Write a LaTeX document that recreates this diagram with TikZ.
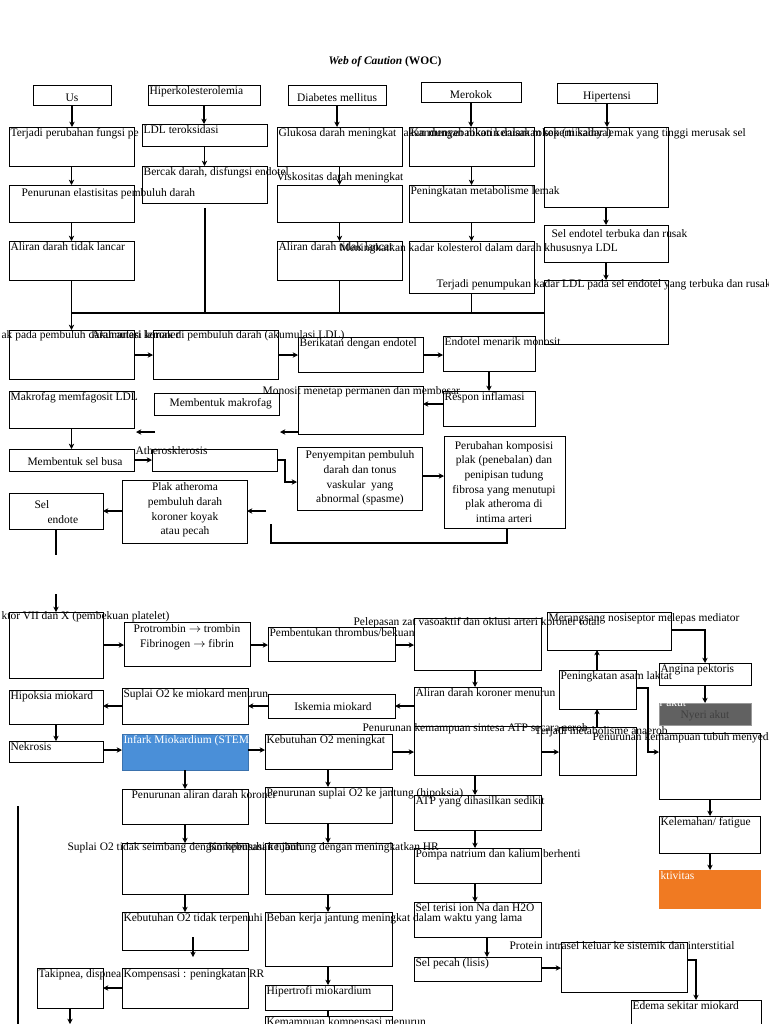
\documentclass[tikz,border=0pt]{standalone}
\usepackage{fontspec}
\setmainfont{Liberation Serif}
\usetikzlibrary{arrows.meta}
\definecolor{infblue}{HTML}{4A8FD8}
\definecolor{aktor}{HTML}{F07A22}
\tikzset{
  box/.style={draw, line width=0.6pt, inner sep=0pt, outer sep=0pt, anchor=north west},
  lbl/.style={anchor=north west, inner sep=1pt, font=\fontsize{8.6}{9.5}\selectfont, align=left},
  txt/.style={anchor=north west, inner sep=1pt, font=\fontsize{8.6}{9.5}\selectfont, align=left},
  ctxt/.style={inner sep=1pt, font=\fontsize{8.6}{11}\selectfont, align=center},
  arr/.style={draw, line width=0.9pt, -{Stealth[length=4pt,width=4pt]}},
  ln/.style={draw, line width=0.9pt},
}
\newcommand\mybox[6]{\node[box, minimum width={#4*0.75pt}, minimum height={#5*0.75pt}, label={[lbl]north west:{#6}}] (#1) at (#2,#3) {};}
\begin{document}
\begin{tikzpicture}[x=0.75pt,y=-0.75pt]
\useasboundingbox (0,0) rectangle (768,1024);
\node[ctxt] (title) at (385,62) {\textbf{\textit{Web of Caution}} \textbf{(WOC)}};
% row 1
\mybox{us}{33}{85}{78}{20}{}
\node[ctxt] (ust) at (72,98) {Us};
\mybox{hk}{148}{85}{112}{20}{Hiperkolesterolemia}
\mybox{dm}{288}{85}{98}{20}{}
\node[ctxt] (dmt) at (337,98) {Diabetes mellitus};
\mybox{mr}{421}{82}{100}{20}{}
\node[ctxt] (mrt) at (471,95) {Merokok};
\mybox{ht}{557}{83}{100}{20}{}
\node[ctxt] (htt) at (607,97) {Hipertensi};
% col 1
\mybox{a1}{9}{127}{125}{39}{Terjadi perubahan fungsi pe}
\mybox{a2}{9}{185}{125}{37}{}
\node[txt] (a2t) at (20,187) {Penurunan elastisitas pembuluh darah};
\mybox{a3}{9}{241}{125}{39}{Aliran darah tidak lancar}
% col 2
\mybox{h1}{142}{124}{125}{22}{LDL teroksidasi}
\mybox{h2}{142}{166}{125}{37}{Bercak darah, disfungsi endotel}
% col 3
\mybox{d1}{277}{127}{125}{39}{Glukosa darah meningkat}
\mybox{d2}{277}{185}{125}{37}{}
\node[txt] (d2t) at (275,171) {Viskositas darah meningkat};
\mybox{d3}{277}{241}{125}{39}{Aliran darah tidak lancar}
% col 4
\mybox{m1}{409}{127}{125}{39}{Kandungan nikotin dalam rokok (misalnya)}
\mybox{m2}{409}{185}{125}{37}{Peningkatan metabolisme lemak}
\mybox{m3}{409}{241}{125}{52}{}
\node[txt] (m3t) at (338,242) {Meningkatkan kadar kolesterol dalam darah khususnya LDL};
% col 5
\mybox{t1}{544}{127}{124}{80}{}
\node[txt] (t1t) at (402,127) {akan menyebabkan kerusakan seperti kadar lemak yang tinggi merusak sel};
\mybox{t2}{544}{225}{124}{37}{}
\node[txt] (t2t) at (550,228) {Sel endotel terbuka dan rusak};
\mybox{t3}{544}{280}{124}{64}{}
\node[txt] (t3t) at (435,278) {Terjadi penumpukan kadar LDL pada sel endotel yang terbuka dan rusak};
% top arrows
\draw[arr] (us.south) -- (us.south |- a1.north);
\draw[arr] (a1.south) -- (a2.north);
\draw[arr] (a2.south) -- (a3.north);
\draw[arr] (hk.south) -- (hk.south |- h1.north);
\draw[arr] (h1.south) -- (h1.south |- h2.north);
\draw[arr] (dm.south) -- (dm.south |- d1.north);
\draw[arr] (d1.south) -- (d2.north);
\draw[arr] (d2.south) -- (d3.north);
\draw[arr] (mr.south) -- (mr.south |- m1.north);
\draw[arr] (m1.south) -- (m2.north);
\draw[arr] (m2.south) -- (m3.north);
\draw[arr] (ht.south) -- (ht.south |- t1.north);
\draw[arr] (t1.south) -- (t2.north);
\draw[arr] (t2.south) -- (t3.north);
% collector
\coordinate (c2top) at (205,208);
\coordinate (busL) at (71,313);
\draw[ln] (c2top) -- (205,313);
\draw[ln] (d3.south) -- (d3.south |- busL);
\draw[ln] (m3.south) -- (m3.south |- busL);
\draw[ln] (busL) -- (busL -| t3.west);
% row b
\mybox{b1}{9}{330}{125}{49}{}
\mybox{b2}{153}{330}{125}{49}{}
\node[txt] (b1t) at (0,329) {ak pada pembuluh darah arteri koroner};
\node[txt] (b2t) at (90,329) {Akumulasi lemak di pembuluh darah (akumulasi LDL)};
\mybox{b3}{298}{337}{125}{35}{Berikatan dengan endotel}
\mybox{b4}{443}{336}{92}{35}{Endotel menarik monosit}
\draw[arr] (a3.south) -- (a3.south |- b1.north);
\draw[arr] (b1.east |- 0,355) -- (b2.west |- 0,355);
\draw[arr] (b2.east |- 0,355) -- (b3.west |- 0,355);
\draw[arr] (b3.east |- 0,355) -- (b4.west |- 0,355);
% row c
\mybox{c4}{443}{391}{92}{35}{Respon inflamasi}
\mybox{c3}{298}{386}{125}{48}{}
\node[txt] (c3t) at (261,385) {Monosit menetap permanen dan membesar};
\mybox{c2}{154}{393}{125}{22}{}
\node[txt] (c2t) at (168,397) {Membentuk makrofag};
\mybox{c1}{9}{391}{125}{37}{Makrofag memfagosit LDL};
\draw[arr] (b4.south) -- (b4.south |- c4.north);
\draw[arr] (c4.west |- 0,404) -- (c3.east |- 0,404);
\coordinate (ca) at (280,432);
\coordinate (cb1) at (155,432);
\coordinate (cb2) at (136,432);
\draw[arr] (c3.west |- ca) -- (ca);
\draw[arr] (cb1) -- (cb2);
% row e
\mybox{e1}{9}{449}{125}{22}{}
\node[ctxt] (e1t) at (75,462) {Membentuk sel busa};
\mybox{e2}{152}{449}{125}{22}{}
\node[txt] (e2t) at (134,445) {Atherosklerosis};
\mybox{e3}{297}{447}{125}{63}{}
\node[ctxt] (e3t) at (360,478) {Penyempitan pembuluh\\darah dan tonus\\vaskular\ \ yang\\abnormal (spasme)};
\mybox{e4}{444}{436}{121}{92}{}
\node[ctxt] (e4t) at (504,482) {Perubahan komposisi\\plak (penebalan) dan\\penipisan tudung\\fibrosa yang menutupi\\plak atheroma di\\intima arteri};
\draw[arr] (c1.south) -- (c1.south |- e1.north);
\draw[arr] (e1.east |- 0,460) -- (e2.west |- 0,460);
\draw[arr] (e2.east |- 0,460) -- (285,460) -- (285,482) -- (e3.west |- 0,482);
\draw[arr] (e3.east |- 0,476) -- (e4.west |- 0,476);
% row f
\mybox{f2}{122}{480}{125}{63}{}
\node[ctxt] (f2t) at (185,510) {Plak atheroma\\pembuluh darah\\koroner koyak\\atau pecah};
\mybox{f1}{9}{493}{94}{36}{}
\node[txt] (f1a) at (33,499) {Sel};
\node[txt] (f1b) at (46,514) {endote};
\coordinate (fl) at (271,524);
\coordinate (e4b) at (507,528);
\draw[ln] (e4b) -- (507,543) -- (271,543) -- (fl);
\coordinate (fa) at (266,511);
\draw[arr] (fa) -- (f2.east |- fa);
\draw[arr] (f2.west |- 0,511) -- (f1.east |- 0,511);
\coordinate (f1e) at (56,555);
\draw[ln] (f1.south -| f1e) -- (f1e);
\coordinate (g0) at (56,594);
% lower part
\mybox{g1}{9}{612}{94}{66}{}
\node[txt] (g1t) at (0,610) {ktor VII dan X (pembekuan platelet)};
\draw[arr] (g0) -- (g0 |- g1.north);
\mybox{g2}{124}{622}{126}{44}{}
\node[ctxt] (g2t) at (187,637) {Protrombin $\rightarrow$ trombin\\Fibrinogen $\rightarrow$ fibrin};
\mybox{g3}{268}{627}{127}{34}{Pembentukan thrombus/bekuan}
\mybox{g4}{414}{618}{127}{52}{}
\node[txt] (g4t) at (352,616) {Pelepasan zat vasoaktif dan oklusi arteri koroner total};
\mybox{g5}{547}{612}{124}{38}{Merangsang nosiseptor melepas mediator}
\draw[arr] (g1.east |- 0,645) -- (g2.west |- 0,645);
\draw[arr] (g2.east |- 0,645) -- (g3.west |- 0,645);
\draw[arr] (g3.east |- 0,645) -- (g4.west |- 0,645);
\mybox{an}{659}{663}{92}{22}{Angina pektoris}
\draw[arr] (g5.east |- 0,630) -- (705,630) -- (705,663);
\node[box, minimum width={92*0.75pt}, minimum height={22*0.75pt}, fill=black!62, draw=black!40] (ny) at (659,703) {};
\node[ctxt, text=black!75] (nyt) at (705,716) {Nyeri akut};
\node[txt, text=white] (nyt2) at (658,697) {r akut};
\draw[arr] (an.south -| 705,0) -- (705,703);
\mybox{lak}{559}{670}{77}{39}{Peningkatan asam laktat}
\mybox{an2}{559}{727}{77}{48}{}
\node[txt] (an2t) at (533,725) {Terjadi metabolisme anaerob};
\draw[arr] (597,670) -- (597,650);
\draw[arr] (597,727) -- (597,709);
\mybox{h4a}{414}{687}{127}{39}{Aliran darah koroner menurun}
\mybox{h4b}{414}{726}{127}{49}{}
\node[txt] (h4bt) at (361,722) {Penurunan kemampuan sintesa ATP secara aerob};
\draw[arr] (475,670) -- (475,687);
\mybox{isk}{268}{694}{127}{24}{}
\node[ctxt] (iskt) at (333,707) {Iskemia miokard};
\mybox{sup}{122}{688}{126}{36}{Suplai O2 ke miokard menurun}
\mybox{hip}{9}{690}{94}{34}{Hipoksia miokard}
\draw[arr] (h4a.west |- 0,706) -- (isk.east |- 0,706);
\draw[arr] (isk.west |- 0,706) -- (sup.east |- 0,706);
\draw[arr] (sup.west |- 0,706) -- (hip.east |- 0,706);
\mybox{nek}{9}{741}{94}{21}{Nekrosis}
\draw[arr] (56,724) -- (56,741);
\node[box, minimum width={126*0.75pt}, minimum height={36*0.75pt}, fill=infblue, draw=infblue!80!black, label={[lbl, text=white]north west:{Infark Miokardium (STEMI)}}] (inf) at (122,734) {};
\draw[arr] (nek.east |- 0,750) -- (inf.west |- 0,750);
\mybox{keb}{265}{734}{127}{35}{Kebutuhan O2 meningkat}
\draw[arr] (inf.east |- 0,750) -- (keb.west |- 0,750);
\draw[arr] (keb.east |- 0,752) -- (h4b.west |- 0,752);
\draw[arr] (h4b.east |- 0,752) -- (an2.west |- 0,752);
\mybox{kmp}{659}{733}{101}{66}{}
\node[txt] (kmpt) at (591,731) {Penurunan kemampuan tubuh menyediakan energi};
\draw[arr] (lak.east |- 0,688) -- (648,688) -- (648,752) -- (kmp.west |- 0,752);
\mybox{kel}{659}{816}{101}{37}{Kelemahan/ fatigue}
\draw[arr] (710,799) -- (710,816);
\node[box, minimum width={101*0.75pt}, minimum height={38*0.75pt}, fill=aktor, draw=aktor, label={[lbl, text=white]north west:{ktivitas}}] (akt) at (659,870) {};
\draw[arr] (710,853) -- (710,870);
% lower columns
\mybox{pa}{122}{789}{126}{35}{}
\node[txt] (pat) at (130,789) {Penurunan aliran darah koroner};
\draw[arr] (185,770) -- (185,789);
\mybox{ps}{265}{787}{127}{36}{Penurunan suplai O2 ke jantung (hipoksia)}
\draw[arr] (328,769) -- (328,787);
\mybox{atp}{414}{795}{127}{35}{ATP yang dihasilkan sedikit}
\draw[arr] (475,775) -- (475,795);
\mybox{sup2}{122}{843}{126}{51}{}
\node[txt] (sup2t) at (66,841) {Suplai O2 tidak seimbang dengan kebutuhan tubuh};
\draw[arr] (185,824) -- (185,843);
\mybox{kmp2}{265}{843}{127}{51}{}
\node[txt] (kmp2t) at (207,841) {Kompensasi ke jantung dengan meningkatkan HR};
\draw[arr] (328,823) -- (328,843);
\mybox{pompa}{414}{848}{127}{35}{Pompa natrium dan kalium berhenti}
\draw[arr] (475,830) -- (475,848);
\mybox{ion}{414}{902}{127}{35}{Sel terisi ion Na dan H2O}
\draw[arr] (475,883) -- (475,902);
\mybox{ko}{122}{912}{126}{38}{Kebutuhan O2 tidak terpenuhi}
\draw[arr] (185,894) -- (185,912);
\mybox{bk}{265}{912}{127}{54}{Beban kerja jantung meningkat dalam waktu yang lama}
\draw[arr] (328,894) -- (328,912);
\coordinate (ko1) at (193,937);
\coordinate (ko2) at (193,957);
\draw[arr] (ko1) -- (ko2);
\mybox{kr}{122}{968}{126}{40}{Kompensasi : peningkatan RR}
\mybox{tk}{37}{968}{66}{40}{Takipnea, dispnea}
\draw[arr] (kr.west |- 0,988) -- (tk.east |- 0,988);
\coordinate (tkend) at (70,1024);
\draw[arr] (tk.south -| tkend) -- (tkend);
\mybox{pecah}{414}{957}{127}{24}{Sel pecah (lisis)}
\draw[arr] (487,937) -- (487,957);
\mybox{prot}{561}{942}{126}{50}{}
\node[txt] (prott) at (508,940) {Protein intrasel keluar ke sistemik dan interstitial};
\draw[arr] (pecah.east |- 0,968) -- (prot.west |- 0,968);
\mybox{ed}{631}{1000}{130}{30}{Edema sekitar miokard}
\draw[arr] (prot.east |- 0,960) -- (696,960) -- (696,1000);
\mybox{hm}{265}{985}{127}{25}{Hipertrofi miokardium}
\draw[arr] (328,966) -- (328,985);
\mybox{km}{265}{1016}{127}{20}{Kemampuan kompensasi menurun}
\draw[ln] (328,1010) -- (328,1016);
\coordinate (vl1) at (18,806);
\coordinate (vl2) at (18,1024);
\draw[ln] (vl1) -- (vl2);
\end{tikzpicture}
\end{document}
